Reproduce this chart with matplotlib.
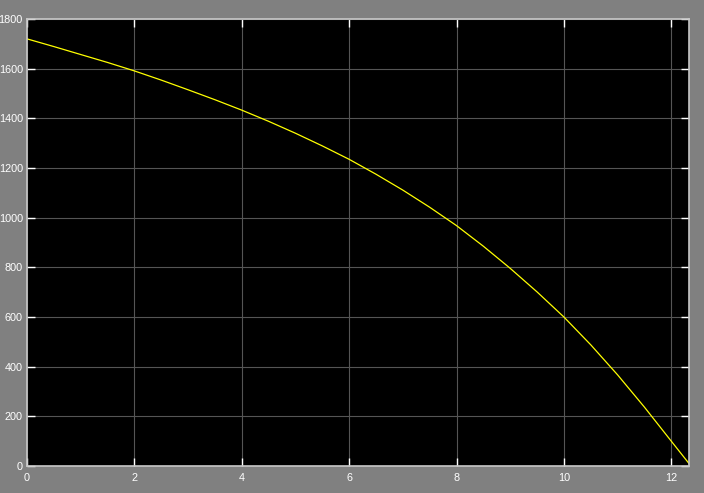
import matplotlib
matplotlib.use("Agg")
import matplotlib.pyplot as plt

# scope trace
time = [0, 0.5, 1, 1.5, 2, 2.5, 3, 3.5, 4, 4.5, 5, 5.5, 6, 6.5, 7, 7.5,
        8, 8.5, 9, 9.5, 10, 10.5, 11, 11.5, 12, 12.33]
height = [1720, 1689, 1657, 1625, 1591, 1554, 1515, 1475, 1433, 1388, 1340,
          1289, 1235, 1175, 1111, 1042, 968, 885, 796, 701, 600, 488, 367,
          237, 100, 10]

x_ticks = [0, 2, 4, 6, 8, 10, 12]
y_ticks = [0, 200, 400, 600, 800, 1000, 1200, 1400, 1600, 1800]

plt.rcParams['font.family'] = ['Liberation Sans', 'DejaVu Sans']

fig = plt.figure(figsize=(7.04, 4.93), dpi=100, facecolor='#808080')
ax = fig.add_axes([27 / 704, 27 / 493, 662 / 704, 447 / 493])
ax.set_facecolor('black')

ax.plot(time, height, color='#ffff00', linewidth=0.9)

ax.set_xlim(0, 12.33)
ax.set_ylim(0, 1800)
ax.set_xticks(x_ticks)
ax.set_yticks(y_ticks)
ax.grid(True, color='#555555', linewidth=0.8)

ax.tick_params(direction='in', length=6, width=1, colors='white',
               labelsize=7.8, top=True, right=True)
ax.tick_params(axis='x', pad=5)
ax.tick_params(axis='y', pad=3)
for side in ax.spines.values():
    side.set_color('#c8c8c8')
    side.set_linewidth(1.2)

fig.savefig('out.png', dpi=100, facecolor=fig.get_facecolor())
